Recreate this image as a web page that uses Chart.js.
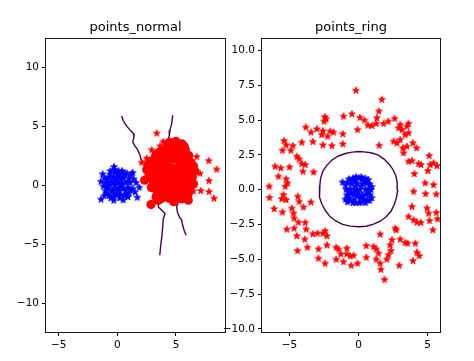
<!DOCTYPE html>
<html><head><meta charset="utf-8">
<script src="https://cdn.jsdelivr.net/npm/chart.js@4"></script>
<style>
html,body{margin:0;padding:0;background:#fff;overflow:hidden}
#wrap{position:relative;width:474px;height:361px;background:#fff}
.c{position:absolute;top:0}
</style></head><body>
<div id="wrap">
<canvas id="c1" class="c" style="left:0px" width="237" height="361"></canvas>
<canvas id="c2" class="c" style="left:218px" width="256" height="361"></canvas>
</div>
<script>
// ---------- data ----------
const titleNormal = 'points_normal';
const titleRing = 'points_ring';
const normalXTicks = [-5, 0, 5];
const normalYTicks = [-10, -5, 0, 5, 10];
const ringXTicks = [-5, 0, 5];
const ringYTicks = [-10, -7.5, -5, -2.5, 0, 2.5, 5, 7.5, 10];

const normalBlue = [[-1.25,0.93],[-0.28,1.55],[1.31,1.05],[1.87,-0.2],[1.70,-1.05],[-1.39,-1.21],[0.51,-1.27],
[-0.9,0.5],[-0.6,0.9],[-0.2,1.1],[0.2,0.9],[0.6,0.8],[1.0,0.6],[1.1,0.2],[1.3,-0.3],[1.0,-0.7],[0.6,-0.9],
[0.2,-1.1],[-0.3,-1.0],[-0.7,-0.9],[-1.0,-0.5],[-1.2,-0.1],[-1.0,0.2],[-0.5,0.4],[-0.1,0.5],[0.3,0.4],[0.7,0.2],
[0.5,-0.3],[0.1,-0.5],[-0.4,-0.4],[-0.6,0.0],[-0.2,0.0],[0.2,0.0],[0.9,-0.2],[-0.8,-0.3],[0.0,-0.8],[0.4,1.2],
[-0.6,1.2],[1.4,0.5],[-1.1,-0.9],[0.9,-1.0],[-0.3,-1.3],[1.5,-0.6],[0.0,0.9],[-1.4,0.3],[0.8,1.0],
[-0.7,0.7],[-0.3,0.7],[0.1,0.7],[0.5,0.6],[0.9,0.3],[-0.9,-0.1],[-0.5,-0.6],[-0.1,-0.3],[0.3,-0.2],[0.7,-0.5],
[1.1,-0.4],[-0.4,0.2],[0.0,0.25],[0.4,0.15],[-0.8,0.2],[0.3,-0.8],[-0.2,-0.7],[1.2,0.9],[-1.1,0.6],[0.1,1.2],
[-0.2,1.3],[1.6,0.2],[-0.95,-0.7],[0.6,1.0],[-0.55,-1.1],[0.8,-0.8]];

const normalRedCircles = [[4.5,3.6],[5.0,3.7],[5.5,3.5],[4.2,3.2],[4.8,3.2],[5.3,3.1],[5.8,3.0],[3.6,2.8],[4.0,2.6],
[4.6,2.7],[5.1,2.6],[5.6,2.6],[6.1,2.5],[3.2,2.3],[3.8,2.2],[4.3,2.1],[4.9,2.2],[5.4,2.0],[5.9,2.1],[6.3,1.9],
[2.6,1.7],[3.1,1.8],[3.6,1.6],[4.1,1.6],[4.6,1.5],[5.2,1.5],[5.7,1.5],[6.2,1.4],[6.6,1.2],[2.9,1.1],[3.4,1.1],
[3.9,1.0],[4.4,1.0],[4.9,0.9],[5.4,1.0],[5.9,0.9],[6.4,0.7],[2.33,0.42],[3.0,0.5],[3.5,0.4],[4.0,0.4],[4.5,0.4],
[5.0,0.3],[5.5,0.4],[6.0,0.3],[3.2,-0.1],[3.7,-0.1],[4.2,-0.2],[4.7,-0.1],[5.2,-0.2],[5.7,-0.2],[6.2,-0.1],
[3.4,-0.6],[4.0,-0.7],[4.6,-0.6],[5.1,-0.7],[5.6,-0.7],[6.1,-0.6],[3.78,-1.13],[4.4,-1.1],[5.0,-1.2],[5.5,-1.15],
[6.05,-1.27],[2.87,-1.64],[3.3,-1.0],[4.8,-1.4],
[2.8,2.0],[3.0,1.4],[2.7,0.8],[2.9,-0.2],[3.1,0.2],[3.5,1.9],[3.3,2.6],[3.8,2.5],[3.6,-0.4],[4.2,2.9],[4.8,3.5],
[5.3,3.4],[4.1,1.3],[4.7,1.2],[5.5,1.3],[6.0,1.2],[3.7,0.7],[4.2,0.7],[4.8,0.6],[5.3,0.7],[5.8,0.6],[6.3,0.3],
[3.9,-0.4],[4.5,-0.3],[5.0,-0.4],[5.5,-0.5],[6.0,-0.9],[4.2,-0.95],[4.7,-0.9],[5.2,-1.0],[3.5,-1.3],[6.5,0.1],
[6.5,1.6],[5.7,3.3],[4.4,3.6],[3.9,1.9],[4.4,2.4],[5.1,2.9],[5.6,2.3],[6.0,1.7],[3.3,0.8],[2.5,1.3]];

const normalRedStars = [[3.36,4.38],[6.77,2.40],[7.79,2.06],[8.47,1.33],[7.05,0.99],[7.82,0.37],[7.11,-0.48],
[7.82,-0.56],[8.24,-1.13],[6.48,-0.51],[2.93,2.97],[3.64,3.30],[3.92,3.67],[2.5,2.26],[2.07,1.92]];

const normalContourA = [[0.37,5.85],[0.51,5.45],[0.80,5.0],[1.14,4.6],[1.37,4.38],[1.42,4.04],[1.31,3.67],
[1.51,3.31],[1.71,3.03],[1.94,2.54],[2.02,2.18],[2.22,1.97]];
const normalContourB = [[3.36,-0.99],[3.45,-1.4],[3.50,-1.84],[3.79,-2.12],[4.07,-2.40],[3.92,-2.82],[3.87,-3.53],
[3.79,-4.38],[3.70,-5.08],[3.62,-5.93]];
const normalContourC = [[4.72,5.93],[4.64,5.23],[4.49,4.66],[4.43,4.15],[4.26,3.67],[4.07,3.25]];
const normalContourD = [[5.2,-1.41],[5.06,-1.84],[5.12,-2.26],[5.29,-2.68],[5.49,-2.97],[5.57,-3.39],[5.69,-3.81],[5.86,-4.24]];

const ringRed = [[-0.19,7.12],[1.69,6.47],[1.47,5.63],[-0.48,5.43],[-1.09,5.26],[0.10,5.17],[0.43,4.98],[1.33,5.14],
[2.61,5.10],[2.15,4.90],[1.81,4.74],[0.68,4.62],[0.97,4.59],[1.28,4.74],[-2.44,5.22],[-2.34,5.07],[-2.49,4.90],
[-3.82,4.47],[-3.02,4.35],[-3.45,4.11],[-2.58,4.21],[-2.05,4.18],[-1.81,4.11],[-2.66,3.94],[-2.25,3.82],
[-0.07,4.30],[-1.14,3.99],[-3.31,3.44],[-2.58,3.20],[-1.93,3.15],[-1.14,3.27],[-4.11,3.39],[-5.39,3.51],
[-5.24,3.20],[-4.76,3.15],[-5.51,2.81],[-4.90,2.81],[-4.47,2.38],[-4.30,2.19],[-4.11,1.85],[-3.86,1.78],
[-4.03,1.30],[-3.26,1.25],[-5.0,1.61],[-5.63,1.54],[-6.04,1.66],[-5.80,0.94],[-5.24,0.75],[-5.14,0.46],
[-5.31,0.22],[-6.47,0.22],[-6.45,-0.58],[-5.43,-0.38],[-5.56,-0.67],[-5.24,-0.75],[-4.40,-0.50],[-4.30,-0.87],
[-3.45,-0.91],[-6.11,-1.39],[-5.51,-1.63],[-4.83,-1.35],[-4.71,-1.71],[-3.99,-1.27],[-4.66,-2.07],[-4.35,-2.36],
[-3.86,-2.38],[-5.19,-2.86],[-4.66,-2.79],[-3.79,-2.86],[-4.47,-3.34],[-3.89,-3.58],[-3.31,-3.20],[-2.97,-3.15],
[-2.58,-3.15],[-2.42,-2.98],[-2.29,-3.34],[-3.70,-4.16],[-4.42,-4.40],[-2.90,-4.28],[-2.29,-4.0],[-1.62,-4.16],
[-1.45,-4.30],[-0.85,-4.23],[-1.28,-4.64],[-0.85,-4.64],[-0.60,-4.78],[-0.36,-4.74],[-2.90,-4.95],[-2.42,-5.31],
[-1.62,-5.02],[-1.09,-5.19],[-0.53,-5.46],[-0.07,-5.31],[0.56,-4.88],[0.56,-4.04],[1.09,-4.11],[1.28,-4.28],
[1.45,-4.59],[1.28,-5.02],[1.57,-5.31],[1.62,-5.75],[1.88,-6.47],[1.57,-3.22],[2.42,-3.63],[2.29,-3.99],
[2.34,-4.40],[2.17,-4.71],[2.05,-5.02],[2.95,-5.46],[2.66,-2.79],[2.73,-2.91],[3.02,-3.58],[3.38,-3.82],
[3.55,-3.87],[4.11,-3.87],[4.23,-4.52],[4.40,-4.76],[3.94,-5.12],[3.62,-1.95],[3.99,-2.19],[4.23,-2.36],
[4.52,-2.38],[5.14,-2.24],[5.38,-2.91],[5.72,-2.12],[5.07,-1.71],[5.63,-1.66],[4.95,-1.35],[3.87,-1.23],
[4.85,-0.31],[5.63,-0.34],[3.99,-0.14],[4.83,0.46],[5.43,0.34],[4.04,1.13],[5.02,1.35],[5.19,1.78],[5.43,1.90],
[5.68,1.71],[4.35,1.85],[4.52,1.78],[3.87,2.07],[3.62,2.02],[4.20,2.98],[5.12,2.43],[3.26,2.62],[3.21,2.98],
[3.50,3.10],[3.94,3.34],[2.78,3.34],[3.02,3.58],[3.38,3.94],[3.62,4.06],[3.14,4.30],[2.90,4.42],[3.50,4.54],
[3.62,4.74],[3.02,4.66],[1.50,3.17],[2.54,3.46]];

const ringBlue = [[-0.8,0.5],[-0.4,0.8],[0.0,0.85],[0.5,0.8],[0.8,0.4],[0.9,0.0],[0.85,-0.4],[0.6,-0.75],[0.2,-0.9],
[-0.2,-0.95],[-0.6,-0.8],[-0.85,-0.4],[-0.9,0.0],[-0.5,0.4],[-0.1,0.45],[0.3,0.4],[0.5,0.0],[0.3,-0.4],[-0.1,-0.5],
[-0.5,-0.3],[-0.3,0.0],[0.1,0.0],[0.6,0.45],[-0.6,0.05],[0.0,-0.25],[0.35,-0.7],[-0.35,-0.7],[0.7,-0.2],
[-0.7,-0.6],[-1.16,0.53],[0.25,0.75],[-0.25,0.6],
[-0.7,0.75],[-0.2,0.9],[0.2,0.9],[0.7,0.7],[0.95,0.2],[0.95,-0.6],[-0.95,-0.7],[-0.95,0.3],[-0.7,-0.2],
[-0.3,-0.3],[0.15,-0.6],[0.55,-0.35],[0.2,0.25],[-0.2,0.25],[0.4,0.6],[-0.45,0.7],[0.05,-0.95],[-0.4,-0.95],
[0.5,-0.95],[0.8,-0.8],[-0.8,-0.9],[0.75,0.05],[-0.1,-0.1]];

const ringContour = [[2.85,0],[2.8,0.5],[2.7,1.0],[2.5,1.45],[2.2,1.85],[1.85,2.2],[1.4,2.5],[0.9,2.65],[0.4,2.72],
[0,2.74],[-0.45,2.7],[-0.95,2.6],[-1.45,2.42],[-1.9,2.15],[-2.3,1.75],[-2.6,1.3],[-2.75,0.8],[-2.8,0.3],
[-2.85,-0.1],[-2.8,-0.55],[-2.65,-1.05],[-2.4,-1.5],[-2.05,-1.95],[-1.65,-2.25],[-1.15,-2.5],[-0.6,-2.62],
[0,-2.67],[0.55,-2.63],[1.1,-2.48],[1.6,-2.25],[2.0,-1.95],[2.35,-1.55],[2.6,-1.05],[2.75,-0.55],[2.85,0]];

// ---------- styles ----------
const RED = '#ff0000', BLUE = '#0000ff', CONTOUR = '#440154';
const FONT = 'DejaVu Sans';

function starImg(color, R) {
  const s = Math.ceil(R * 2 + 3);
  const c = document.createElement('canvas'); c.width = s; c.height = s;
  const g = c.getContext('2d'); const cx = s / 2, cy = s / 2, r = R * 0.381966;
  g.beginPath();
  for (let i = 0; i < 10; i++) {
    const a = -Math.PI / 2 + i * Math.PI / 5, rr = i % 2 ? r : R;
    g.lineTo(cx + rr * Math.cos(a), cy + rr * Math.sin(a));
  }
  g.closePath(); g.fillStyle = color; g.fill();
  g.strokeStyle = color; g.lineWidth = 1; g.stroke();
  return c;
}
const redStar = starImg(RED, 3.5), blueStar = starImg(BLUE, 3.5);

const fmtMinus = (v, dec) => {
  const s = dec ? Math.abs(v).toFixed(dec) : String(Math.abs(v));
  return (v < 0 ? '\u2212' : '') + s;
};

const framePlugin = {
  id: 'frame',
  afterDraw(chart) {
    const a = chart.chartArea, g = chart.ctx;
    g.save(); g.strokeStyle = '#1a1a1a'; g.lineWidth = 1;
    g.strokeRect(Math.round(a.left) - 0.5, Math.round(a.top) - 0.5,
      Math.round(a.right - a.left) + 1, Math.round(a.bottom - a.top) + 1);
    g.restore();
  }
};

function axis(min, max, ticks, dec, fitW, fitH) {
  return {
    type: 'linear', min, max,
    afterBuildTicks: s => { s.ticks = ticks.map(v => ({ value: v })); },
    afterFit: s => { if (fitW != null) s.width = fitW; if (fitH != null) s.height = fitH; },
    ticks: {
      autoSkip: false, maxRotation: 0, padding: 3, color: '#000',
      font: { family: FONT, size: 10.5 },
      callback: v => fmtMinus(v, dec)
    },
    grid: { display: true, drawOnChartArea: false, drawTicks: true, tickLength: 4, tickWidth: 1, tickColor: '#000', color: '#000' },
    border: { display: false }
  };
}

function lineDs(data) {
  return { data, showLine: true, pointRadius: 0, borderColor: CONTOUR, borderWidth: 1.4, fill: false, order: 9, tension: 0 };
}

function baseOptions(title, padRight, xs, ys) {
  return {
    responsive: false, animation: false, devicePixelRatio: 1,
    layout: { padding: { left: 0, right: padRight, top: 0, bottom: 0 } },
    plugins: {
      legend: { display: false }, tooltip: { enabled: false },
      title: { display: true, text: title, fullSize: false, color: '#000',
        font: { family: FONT, size: 13, weight: 'normal' }, padding: { top: 19.7, bottom: 3.7 } }
    },
    scales: { x: xs, y: ys }
  };
}

new Chart(document.getElementById('c1'), {
  type: 'scatter',
  data: {
    datasets: [
      lineDs(normalContourA), lineDs(normalContourB), lineDs(normalContourC), lineDs(normalContourD),
      { data: normalBlue, pointStyle: blueStar, order: 4 },
      { data: normalRedCircles, pointStyle: 'circle', pointRadius: 4.6, backgroundColor: RED, borderColor: RED, borderWidth: 0, order: 3 },
      { data: normalRedStars, pointStyle: redStar, order: 2 }
    ]
  },
  options: baseOptions(titleNormal, 12,
    axis(-6.08, 9.18, normalXTicks, 0, null, 29),
    axis(-12.42, 12.37, normalYTicks, 0, 46, null)),
  plugins: [framePlugin]
});

new Chart(document.getElementById('c2'), {
  type: 'scatter',
  data: {
    datasets: [
      lineDs(ringContour),
      { data: ringRed, pointStyle: redStar, order: 3 },
      { data: ringBlue, pointStyle: blueStar, order: 2 }
    ]
  },
  options: baseOptions(titleRing, 34,
    axis(-6.99, 5.9, ringXTicks, 0, null, 29),
    axis(-10.23, 10.83, ringYTicks, 1, 44, null)),
  plugins: [framePlugin]
});
</script>
</body></html>
